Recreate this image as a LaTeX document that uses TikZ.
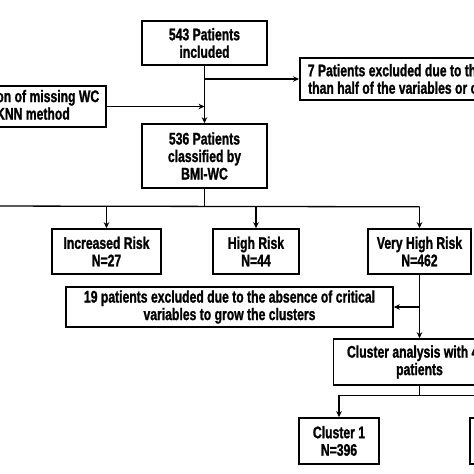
\documentclass[tikz,border=0pt]{standalone}
\usepackage{fontspec}
\setmainfont{Liberation Sans}[FakeStretch=0.725, BoldFeatures={FakeBold=1.2}]
\usetikzlibrary{positioning,arrows.meta,calc}

\begin{document}
\begin{tikzpicture}[x=1pt, y=-1pt,
  box/.style={draw, line width=1.6pt, rectangle, align=center, inner sep=0pt,
    font=\bfseries\fontsize{16.8}{17.5}\selectfont},
  flow/.style={-{Stealth[length=6pt, width=5.5pt]}, line width=1.3pt},
  link/.style={line width=1.3pt}]

% Frame
\useasboundingbox (0,0) rectangle (474,474);
\clip (0,0) rectangle (474,474);

% Nodes
\node[box, minimum width=125pt, minimum height=44pt] (incl) at (204.5,43) {543 Patients\\included};
\node[box, minimum width=125pt, minimum height=64pt] (bmi) at (204.5,156) {536 Patients\\classified by\\BMI-WC};
\node[box, anchor=east, inner xsep=7pt, minimum height=41pt] (knn) at (107,106.5) {Imputation of missing WC\\by KNN method};
\node[box, anchor=west, inner xsep=8pt, minimum height=42pt] (lost) at (299,79) {7 Patients excluded due to the lack of more\\than half of the variables or of the outcome};

% Risk groups
\node[box, minimum width=109pt, minimum height=45pt] (incr) at (106.5,251.5) {Increased Risk\\N=27};
\node[box, minimum width=86pt, minimum height=45pt] (high) at (256,251.5) {High Risk\\N=44};
\node[box, minimum width=103pt, minimum height=45pt] (vhigh) at (419.5,251.5) {Very High Risk\\N=462};
\node[box, minimum width=327pt, minimum height=40pt] (absent) at (229.5,307) {19 patients excluded due to the absence of critical\\variables to grow the clusters};

% Clusters
\node[box, minimum width=172pt, minimum height=46pt] (clan) at (419.5,362) {Cluster analysis with 443\\patients};
\node[box, minimum width=80pt, minimum height=46pt] (cl1) at (339,441) {Cluster 1\\N=396};
\node[box, minimum width=80pt, minimum height=46pt] (cl2) at (510,441) {Cluster 2\\N=47};

% Arrows
\coordinate (j1) at (incl.south |- lost.west);
\draw[flow] (incl) -- (bmi);
\draw[flow] (j1) -- (lost);
\draw[flow] (knn) -- (knn -| bmi.north);

\coordinate (s1) at ($(bmi.south)+(0,18)$);
\coordinate (far) at (-20,206);
\draw[link] (bmi) -- (s1);
\draw[link] (far) -- (s1 -| vhigh.north);
\draw[flow] (s1 -| incr.north) -- (incr);
\draw[flow] (s1 -| high.north) -- (high);
\draw[flow] (s1 -| vhigh.north) -- (vhigh);

\coordinate (j2) at (vhigh.south |- absent.east);
\draw[flow] (vhigh.south) -- (vhigh.south |- clan.north);
\draw[flow] (j2) -- (absent);

\coordinate (s2) at ($(clan.south)+(0,10)$);
\draw[link] (clan.south) -- (s2);
\draw[flow] (s2) -| (cl1);
\draw[flow] (s2) -| (cl2);

\end{tikzpicture}
\end{document}
